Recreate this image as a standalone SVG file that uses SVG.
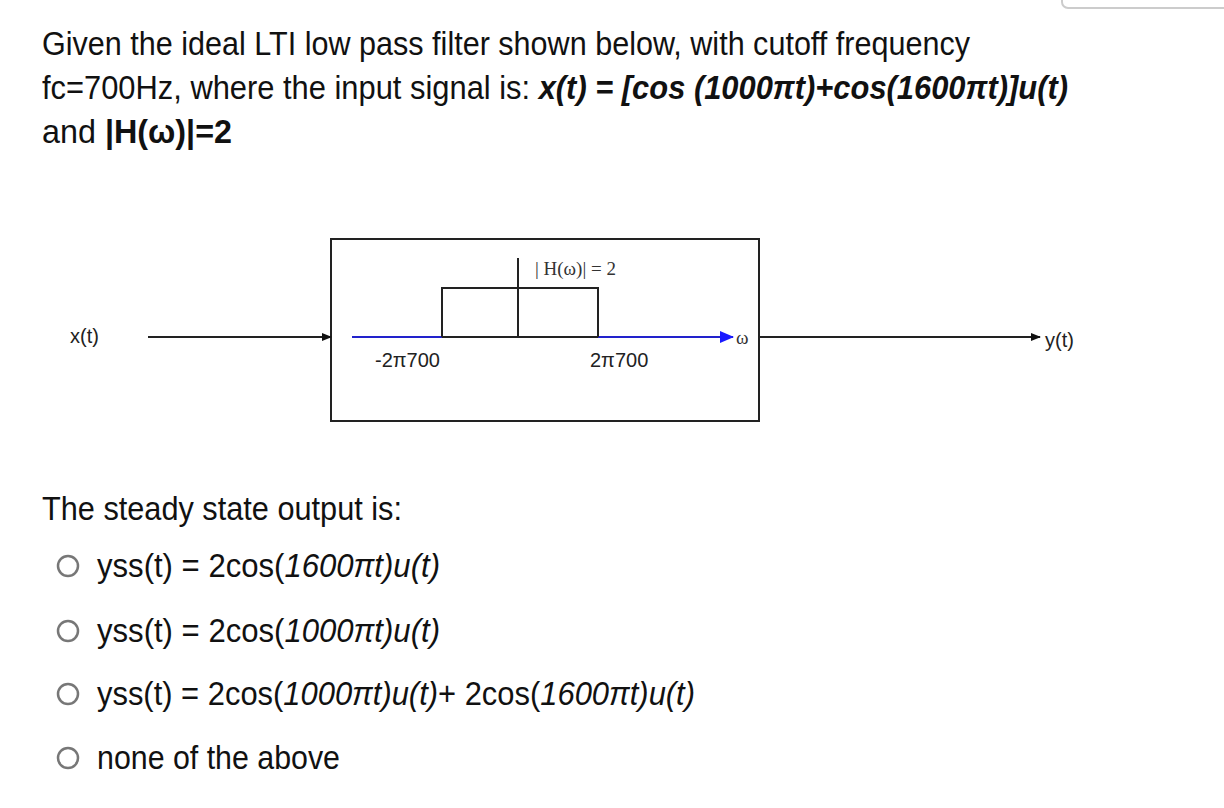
<svg xmlns="http://www.w3.org/2000/svg" width="1224" height="808" viewBox="0 0 1224 808">
<style>
.t{font-family:"Liberation Sans",Arial,sans-serif;font-size:33px;fill:#111}
.b{font-weight:bold;font-style:italic}
.i{font-style:italic}
.s{font-family:"Liberation Sans",Arial,sans-serif;font-size:20px;fill:#222}
.m{font-family:"Liberation Serif","Times New Roman",serif;font-size:19px;fill:#333}
.ln{stroke:#222;stroke-width:2;fill:none}
.rad{fill:#fff;stroke:#777;stroke-width:2.5}
</style>
<defs>
<marker id="ab" markerWidth="10" markerHeight="8" refX="9" refY="4" orient="auto" markerUnits="userSpaceOnUse"><path d="M0,0L10,4L0,8z" fill="#111"/></marker>
<marker id="abl" markerWidth="14" markerHeight="12" refX="13" refY="6" orient="auto" markerUnits="userSpaceOnUse"><path d="M0,0L14,6L0,12z" fill="#1a1aff"/></marker>
</defs>
<rect width="1224" height="808" fill="#fff"/>
<rect x="1062" y="-12" width="180" height="20" rx="6" fill="#fff" stroke="#ccc" stroke-width="2"/>
<g id="question">
<text class="t" x="42" y="55" textLength="928" lengthAdjust="spacingAndGlyphs">Given the ideal LTI low pass filter shown below, with cutoff frequency</text>
<text class="t" x="42" y="99" textLength="1026" lengthAdjust="spacingAndGlyphs">fc=700Hz, where the input signal is:  <tspan class="b">x(t) = [cos (1000πt)+cos(1600πt)]u(t)</tspan></text>
<text class="t" x="42" y="143" textLength="190" lengthAdjust="spacingAndGlyphs">and <tspan font-weight="bold">|H(ω)|=2</tspan></text>
</g>
<g id="filter">
<rect x="331" y="239" width="428" height="182" class="ln"/>
<line x1="352" y1="337" x2="733" y2="337" stroke="#2222cc" stroke-width="2" marker-end="url(#abl)"/>
<path d="M442,337V288H598V337M518,337V258" class="ln" stroke-width="1.5"/>
<line x1="442" y1="337" x2="598" y2="337" stroke="#222" stroke-width="2"/>
<text class="m" x="535" y="275">| H(ω)|  = 2</text>
<text class="s" x="375" y="367">-2π700</text>
<text class="s" x="590" y="367">2π700</text>
<text class="m" x="736" y="344" font-size="19">ω</text>
</g>
<g id="connectors">
<line x1="148" y1="337" x2="331" y2="337" class="ln" stroke-width="1.5" marker-end="url(#ab)"/>
<line x1="760" y1="337" x2="1040" y2="337" class="ln" stroke-width="1.5" marker-end="url(#ab)"/>
</g>
<g id="labels">
<text class="s" x="70" y="343">x(t)</text>
<text class="s" x="1045" y="347">y(t)</text>
</g>
<g id="answers">
<text class="t" x="42" y="520" textLength="360" lengthAdjust="spacingAndGlyphs">The steady state output is:</text>
<circle class="rad" cx="68" cy="566" r="10"/>
<text class="t" x="97" y="577" textLength="343" lengthAdjust="spacingAndGlyphs">yss(t) = 2cos(<tspan class="i">1600πt)u(t)</tspan></text>
<circle class="rad" cx="68" cy="631" r="10"/>
<text class="t" x="97" y="642" textLength="343" lengthAdjust="spacingAndGlyphs">yss(t) = 2cos(<tspan class="i">1000πt)u(t)</tspan></text>
<circle class="rad" cx="68" cy="694" r="10"/>
<text class="t" x="97" y="705" textLength="598" lengthAdjust="spacingAndGlyphs">yss(t) = 2cos(<tspan class="i">1000πt)u(t)</tspan>+ 2cos(<tspan class="i">1600πt)u(t)</tspan></text>
<circle class="rad" cx="68" cy="758" r="10"/>
<text class="t" x="97" y="769" textLength="243" lengthAdjust="spacingAndGlyphs">none of the above</text>
</g>
</svg>
